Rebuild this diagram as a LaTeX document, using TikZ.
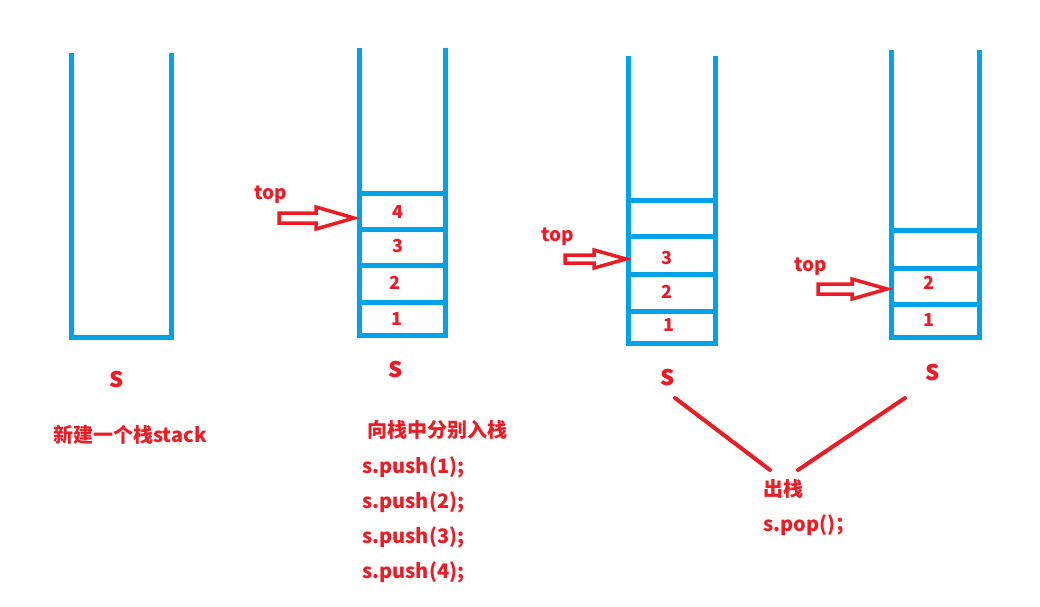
\documentclass[tikz,border=0pt]{standalone}
\usepackage{fontspec}
\newfontfamily\cjk{Noto Sans CJK SC}
\definecolor{paintblue}{HTML}{00A2E8}
\definecolor{paintred}{HTML}{ED1C24}

\begin{document}
\begin{tikzpicture}[x=1pt,y=-1pt,
    wall/.style={draw=paintblue,line width=5pt},
    hollow/.style={draw=paintred,fill=white,line width=3.5pt,line join=miter},
    link/.style={draw=paintred,line width=4pt,line cap=round},
    txt/.style={text=paintred,inner sep=0pt,font=\cjk\bfseries\fontsize{#1}{#1}\selectfont},
    txt/.default=20]
    \useasboundingbox[fill=white] (0,0) rectangle (1040,606);
    % the four stacks
    \foreach \l/\r/\t/\b in {71/171/53/337,359/445/48/335,628/715/56/343,891/979/50/337}
      \draw[wall] (\l,\t) -- (\l,\b) -- (\r,\b) -- (\r,\t);
    \foreach \l/\r/\y in {359/445/193,359/445/229,359/445/265,359/445/302,
                          628/715/200,628/715/236,628/715/274,628/715/311,
                          891/979/230,891/979/268,891/979/304}
      \draw[wall] (\l,\y) -- (\r,\y);
    % cell contents
    \foreach \val/\pos/\name in {{4/(398,212)/b4},{3/(398,246)/b3},{2/(395,283)/b2},{1/(397,319)/b1},
                                 {3/(667,258)/c3},{2/(667,292)/c2},{1/(669,325)/c1},
                                 {2/(929,283)/d2},{1/(929,320)/d1}}
      \node[txt=18] (\name) at \pos {\val};
    % top pointers
    \foreach \x/\h/\tip/\y/\sw/\hw in {279/316/354/218/5/11,565/594/626/259/4/9,818/852/887/289/5/10}
      \draw[hollow] (\x,\y-\sw) -- (\h,\y-\sw) -- (\h,\y-\hw) -- (\tip,\y) -- (\h,\y+\hw) -- (\h,\y+\sw) -- (\x,\y+\sw) -- cycle;
    \foreach \pos/\name in {{(271,195)/tb},{(558,237)/tc},{(811,267)/td}}
      \node[txt=19] (\name) at \pos {top};
    % stack names
    \foreach \pos/\name in {{(117,380)/sa},{(396,370)/sb},{(668,378)/sc},{(933,373)/sd}}
      \node[txt=28] (\name) at \pos {s};
    % captions
    \node[txt,anchor=west] (new) at (53,435) {新建一个栈stack};
    \node[txt,anchor=west] (push) at (367,430) {向栈中分别入栈};
    \foreach \i/\y in {1/467,2/502,3/537,4/572}
      \node[txt,anchor=west] (p\i) at (362,\y) {s.push(\i);};
    \node[txt,anchor=west] (out) at (763,489) {出栈};
    \node[txt,anchor=west] (pop) at (763,525) {s.pop()；};
    % pop links
    \coordinate (ca) at (675,398);
    \coordinate (cb) at (770,470);
    \coordinate (da) at (905,398);
    \coordinate (db) at (798,470);
    \draw[link] (ca) -- (cb);
    \draw[link] (da) -- (db);
\end{tikzpicture}
\end{document}
